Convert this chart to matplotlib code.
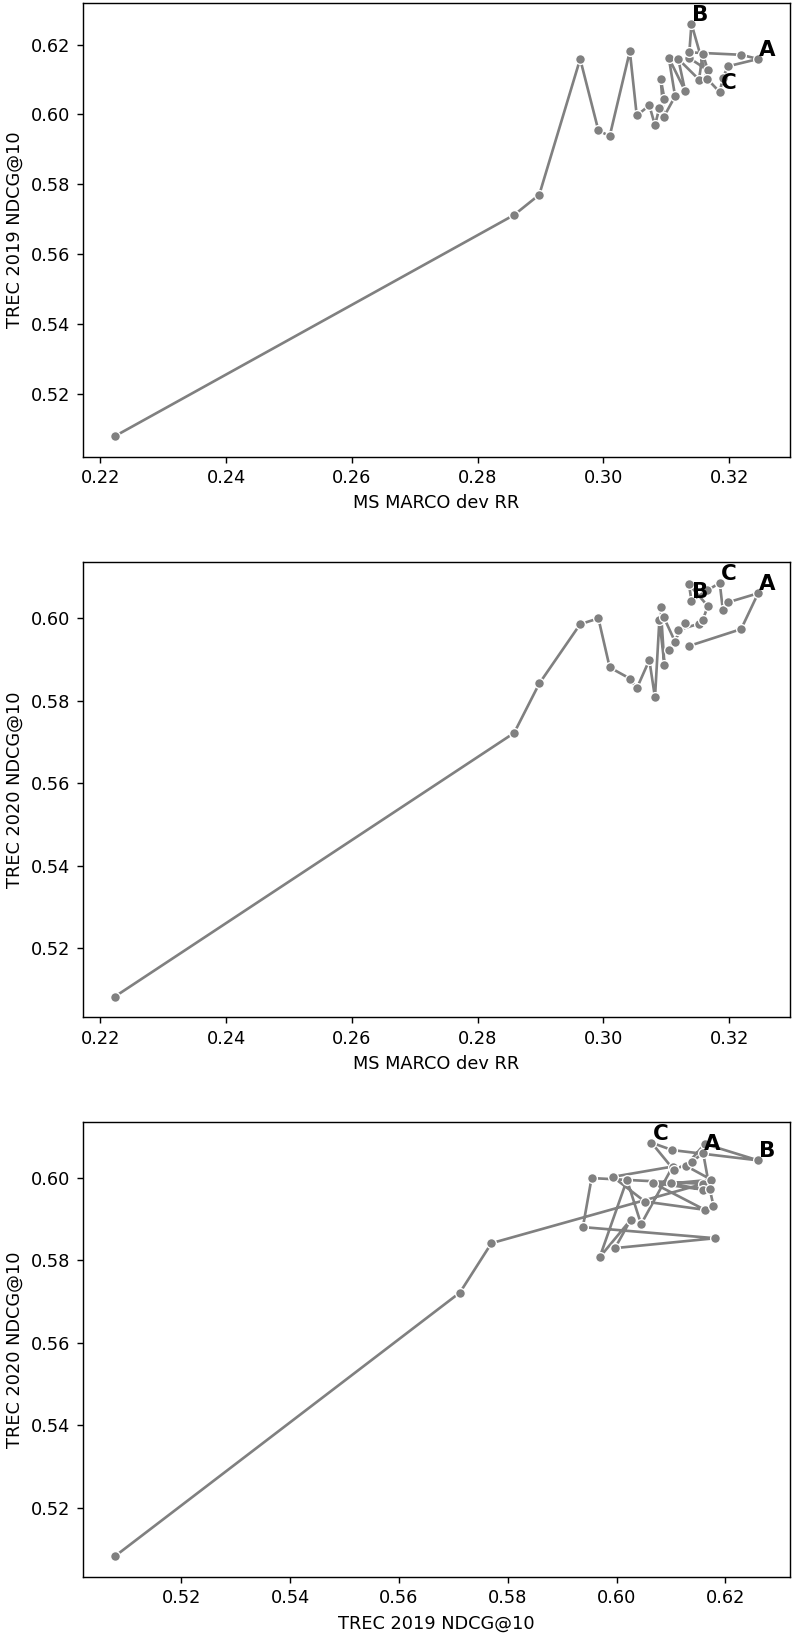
import numpy as np
import matplotlib
matplotlib.use("Agg")
import matplotlib.pyplot as plt

# checkpoints in order: MS MARCO dev RR, TREC 2019 NDCG@10, TREC 2020 NDCG@10
dev_rr = [0.2223, 0.2858, 0.2898, 0.2963, 0.2992, 0.3010, 0.3042, 0.3053,
          0.3073, 0.3082, 0.3089, 0.3097, 0.3091, 0.3096, 0.3114, 0.3104,
          0.3130, 0.3119, 0.3152, 0.3158, 0.3166, 0.3136, 0.3140, 0.3165,
          0.3185, 0.3190, 0.3198, 0.3246, 0.3219, 0.3136]
trec19 = [0.5078, 0.5712, 0.5770, 0.6159, 0.5954, 0.5938, 0.6181, 0.5997,
          0.6026, 0.5969, 0.6019, 0.6045, 0.6103, 0.5993, 0.6052, 0.6162,
          0.6067, 0.6159, 0.6100, 0.6174, 0.6127, 0.6162, 0.6260, 0.6102,
          0.6064, 0.6105, 0.6138, 0.6159, 0.6171, 0.6178]
trec20 = [0.5082, 0.5722, 0.5842, 0.5986, 0.6000, 0.5881, 0.5854, 0.5830,
          0.5899, 0.5808, 0.5996, 0.5888, 0.6028, 0.6003, 0.5943, 0.5923,
          0.5988, 0.5972, 0.5987, 0.5996, 0.6030, 0.6083, 0.6043, 0.6068,
          0.6086, 0.6020, 0.6039, 0.6061, 0.5974, 0.5933]
# labelled checkpoints (index into the lists above)
marks = {"A": 27, "B": 22, "C": 24}

dev_rr = np.array(dev_rr)
trec19 = np.array(trec19)
trec20 = np.array(trec20)

dpi = 128
fig = plt.figure(figsize=(796 / dpi, 1636 / dpi), dpi=dpi)
boxes = [[0.1039, 0.7208, 0.8889, 0.2773],
         [0.1039, 0.3782, 0.8889, 0.2781],
         [0.1039, 0.0361, 0.8889, 0.2781]]
pairs = [(dev_rr, trec19, "MS MARCO dev RR", "TREC 2019 NDCG@10"),
         (dev_rr, trec20, "MS MARCO dev RR", "TREC 2020 NDCG@10"),
         (trec19, trec20, "TREC 2019 NDCG@10", "TREC 2020 NDCG@10")]

for box, (xs, ys, xl, yl) in zip(boxes, pairs):
    ax = fig.add_axes(box)
    ax.plot(xs, ys, '-o', color='gray', lw=1.5, ms=5.5,
            mec='white', mew=0.75)
    for lab, i in marks.items():
        ax.annotate(lab, (xs[i], ys[i]), xytext=(5, 5), textcoords='offset points',
                    ha='center', va='center', fontsize=12, fontweight='bold')
    ax.set_xlabel(xl)
    ax.set_ylabel(yl)

fig.savefig("out.png", dpi=dpi)
